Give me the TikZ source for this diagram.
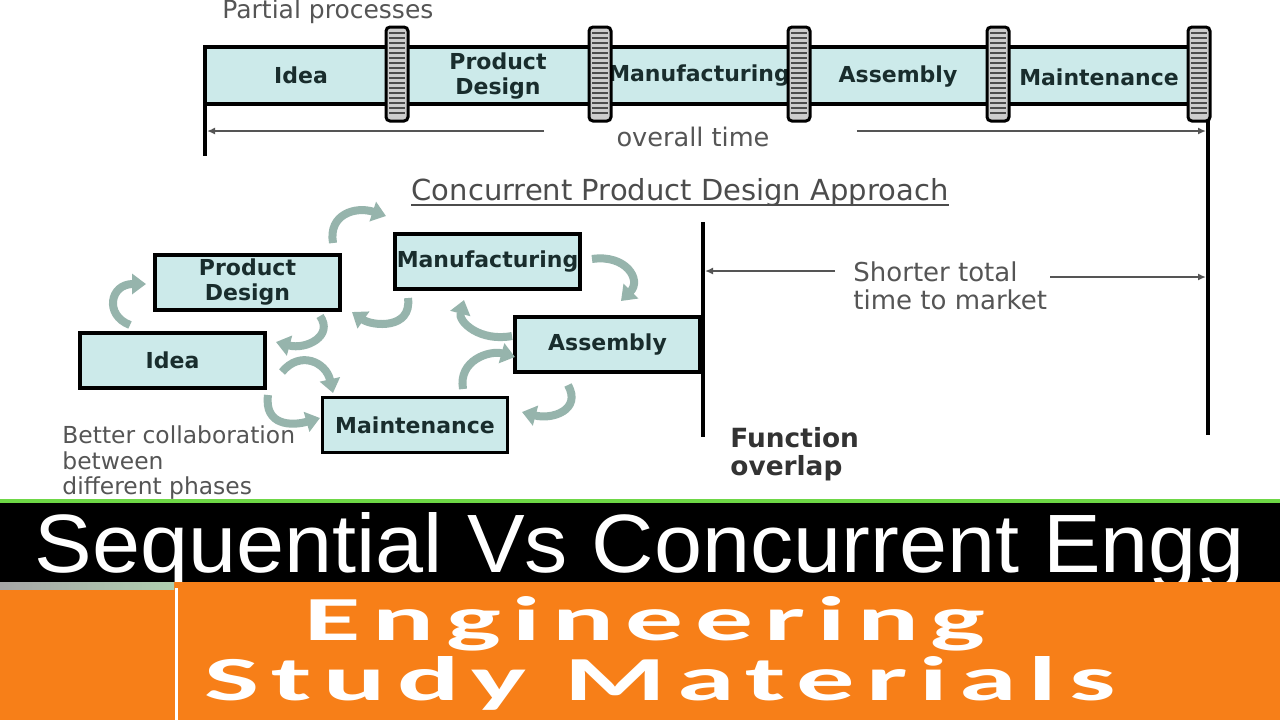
\documentclass[tikz,border=0pt]{standalone}
\usepackage{fontspec}
\usepackage{xcolor}
\usepackage{graphicx}
\usepackage{tikz}
\usetikzlibrary{arrows.meta,calc}
\setmainfont{DejaVu Sans}
\newfontfamily\bannerfont{Liberation Sans}
\newfontfamily\studyfont{Carlito}[LetterSpace=10]

\definecolor{boxfill}{RGB}{204,234,234}
\definecolor{labeldark}{RGB}{25,45,45}
\definecolor{textgray}{RGB}{85,85,85}
\definecolor{sepfill}{RGB}{205,205,205}
\definecolor{swirlgray}{RGB}{150,180,172}
\definecolor{bannergreen}{RGB}{110,215,70}
\definecolor{bannerorange}{RGB}{247,127,24}

\tikzset{
  phase/.style={draw=black, line width=1.6pt, fill=boxfill, minimum width=92.5pt,
    minimum height=27.5pt, inner sep=0pt, align=center, text=labeldark,
    font=\fontsize{11}{12.5}\selectfont\bfseries},
  seqlabel/.style={inner sep=0pt, align=center, text=labeldark,
    font=\fontsize{11}{12.5}\selectfont\bfseries},
  graytext/.style={inner sep=0pt, align=left, text=textgray},
  sepbar/.style={draw=black, line width=1.5pt, fill=sepfill, rounded corners=2pt},
  sepstripe/.style={draw=black!70, line width=0.7pt},
  timearrow/.style={draw=textgray, line width=1.2pt, -{Latex[length=4pt,width=3.5pt]}},
  swirl/.style={draw=swirlgray, line width=4pt, -{Triangle[length=7pt,width=10pt]}}
}

\begin{document}
\begin{tikzpicture}[x=0.5pt, y=-0.5pt]
\useasboundingbox (0,0) rectangle (1280,720);
\fill[white] (0,0) rectangle (1280,500);

\node[graytext, anchor=base west, font=\fontsize{12.5}{14}\selectfont] (partial) at (222,18) {Partial processes};

\draw[fill=boxfill, line width=1.6pt] (205,47) rectangle (1200,104);
\node[seqlabel] (sIdea) at (301,75) {Idea};
\node[seqlabel] (sDesign) at (498,76) {Product\\Design};
\node[seqlabel] (sManu) at (699,76) {Manufacturing};
\node[seqlabel] (sAssy) at (898,77) {Assembly};
\node[seqlabel] (sMaint) at (1099,77) {Maintenance};
\foreach \sx in {397,600,799,998,1199} {
  \draw[sepbar] (\sx-11,27) rectangle (\sx+11,121);
  \foreach \sy in {33,38,...,116}
    \draw[sepstripe] (\sx-8,\sy) -- (\sx+8,\sy);
}
\draw[line width=1.6pt] (205,47) -- (205,156);
\draw[line width=1.6pt] (1208,121) -- (1208,435);

\coordinate (tL) at (207,131);
\coordinate (tR) at (1206,131);
\node[graytext, font=\fontsize{12.8}{14}\selectfont] (ovt) at (693,137) {overall time};
\draw[timearrow] ($(ovt.west |- tL)+(-72,0)$) -- (tL);
\draw[timearrow] ($(ovt.east |- tR)+(87,0)$) -- (tR);

\node[anchor=base, inner sep=0pt, text=black!70, font=\fontsize{14.5}{16}\selectfont] (ttl) at (680,200) {Concurrent Product Design Approach};
\draw[black!70, line width=1pt] ([yshift=-2.5pt]ttl.base west) -- ([yshift=-2.5pt]ttl.base east);

\node[phase] (cDesign) at (247.5,282.5) {Product\\Design};
\node[phase] (cManu) at (487.5,261.5) {Manufacturing};
\node[phase] (cIdea) at (172.5,360.5) {Idea};
\node[phase] (cAssy) at (607.5,344.5) {Assembly};
\node[phase] (cMaint) at (415,425) {Maintenance};

\draw[swirl] (333,243) .. controls (328,214) and (356,206) .. (386,216);
\draw[swirl] (130,325) .. controls (104,315) and (110,284) .. (146,284);
\draw[swirl] (320,316) .. controls (334,336) and (306,350) .. (276,342);
\draw[swirl] (408,298) .. controls (412,330) and (372,326) .. (352,312);
\draw[swirl] (592,259) .. controls (626,254) and (642,280) .. (621,301);
\draw[swirl] (512,336) .. controls (480,342) and (458,322) .. (464,300);
\draw[swirl] (282,372) .. controls (300,350) and (326,362) .. (333,393);
\draw[swirl] (463,389) .. controls (458,360) and (490,350) .. (515,357);
\draw[swirl] (568,385) .. controls (582,410) and (552,420) .. (522,412);
\draw[swirl] (268,395) .. controls (264,426) and (292,426) .. (320,418);

\coordinate (fTop) at (703,222);
\coordinate (fBot) at (703,437);
\draw[line width=2pt] (fTop) -- (fBot);
\coordinate (fL) at (705,271);
\coordinate (fR) at (1206,277);
\node[graytext, anchor=west, font=\fontsize{13}{14}\selectfont] (short) at (853,286) {Shorter total\\time to market};
\draw[timearrow] ($(short.west |- fL)+(-18,0)$) -- (fL);
\draw[timearrow] ($(short.east |- fR)+(3,0)$) -- (fR);

\node[graytext, anchor=west, text=black!80, font=\fontsize{13.2}{14}\selectfont\bfseries] (overlap) at (730,454) {Function\\overlap};
\node[graytext, anchor=west, font=\fontsize{11.7}{12.75}\selectfont] (collab) at (62,463) {Better collaboration\\between\\different phases};

\fill[bannergreen] (0,499) rectangle (1280,503);
\fill[black] (0,503) rectangle (1280,582);
\node[anchor=base, inner sep=0pt, text=white] (seqVs) at (640,572) {\resizebox{605pt}{30pt}{\bannerfont Sequential Vs Concurrent Engg}};
\fill[bannerorange] (0,582) rectangle (1280,720);
\shade[left color=gray!70, right color=green!25!gray!50] (0,582) rectangle (174,589);
\fill[white] (175,588) rectangle (178,720);
\node[anchor=base, inner sep=0pt, text=white] (engg) at (645,640) {\resizebox{340pt}{22pt}{\studyfont\bfseries Engineering}};
\node[anchor=base, inner sep=0pt, text=white] (study) at (660,700) {\resizebox{455pt}{22pt}{\studyfont\bfseries Study Materials}};
\end{tikzpicture}
\end{document}
